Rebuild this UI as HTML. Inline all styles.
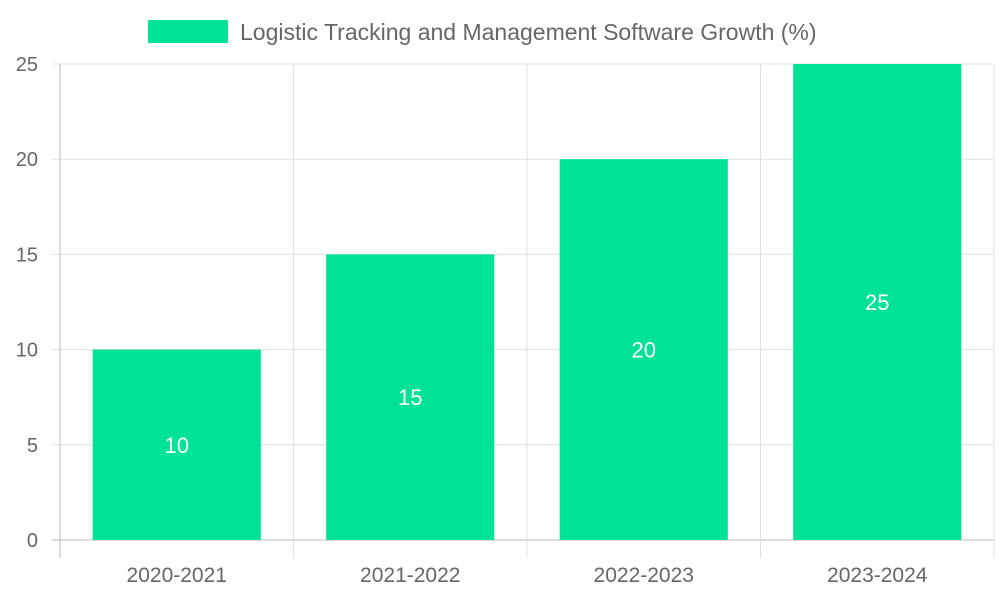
<!DOCTYPE html>
<html><head><meta charset="utf-8"><style>
body{margin:0;background:#fff;}
svg{display:block;font-family:"Liberation Sans",sans-serif;}
</style></head><body>
<svg id="chart" width="1000" height="600">
<g id="legend">
<rect x="148" y="20" width="80" height="23" fill="#00e396"/>
<text x="240" y="40" font-size="23" fill="#666">Logistic Tracking and Management Software Growth (%)</text>
</g>
<g id="grid"></g>
<g id="bars"></g>
<g id="axes"></g>
</svg>
<script>
const categories=["2020-2021","2021-2022","2022-2023","2023-2024"];
const values=[10,15,20,25];
const yTicks=[0,5,10,15,20,25];
const NS="http://www.w3.org/2000/svg";
const L=60,R=994,T=64,B=540,yMax=25;
const y=v=>B-(v/yMax)*(B-T);
const bw=(R-L)/categories.length;
const xc=i=>L+bw*(i+0.5);
function mk(tag,attrs,parent,text){const e=document.createElementNS(NS,tag);for(const k in attrs)e.setAttribute(k,attrs[k]);if(text!==undefined)e.textContent=text;parent.appendChild(e);return e;}
const grid=document.getElementById('grid'),bars=document.getElementById('bars'),axes=document.getElementById('axes');
yTicks.forEach(t=>{
 const l=mk('line',{x1:L-8,x2:R,y1:y(t),y2:y(t),stroke:t===0?'#bbb':'#e0e0e0','stroke-width':1},grid);
 
 
 const tx=mk('text',{x:38,y:y(t)+7,'text-anchor':'end','font-size':20,fill:'#666'},axes,String(t));
 
 
});
for(let i=0;i<=categories.length;i++){
 const x=L+bw*i;
 const l=mk('line',{x1:x,x2:x,y1:T,y2:B+18,stroke:i===0?'#bbb':'#e0e0e0','stroke-width':1},grid);
 
 
}
categories.forEach((c,i)=>{
 const w=bw*0.72;
 const r=mk('rect',{x:xc(i)-w/2,y:y(values[i]),width:w,height:B-y(values[i]),fill:'#00e396'},bars);
 
 
 const v=mk('text',{x:xc(i),y:(y(values[i])+B)/2+8,'text-anchor':'middle','font-size':22,fill:'#fff'},bars,String(values[i]));
 
 
 const xl=mk('text',{x:xc(i),y:582,'text-anchor':'middle','font-size':21,fill:'#666'},axes,c);
 
 
});
</script>
</body></html>
